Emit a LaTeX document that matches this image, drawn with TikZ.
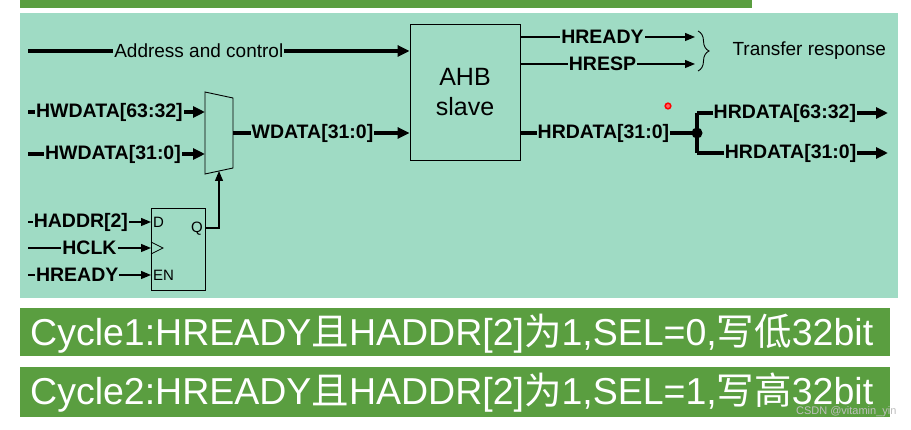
\documentclass[tikz,border=0pt]{standalone}
\usepackage{fontspec}
\setmainfont{Liberation Sans}
\newfontfamily\cjk{Noto Sans CJK SC}
\usetikzlibrary{arrows.meta,decorations.pathreplacing}
\definecolor{panel}{HTML}{9FDBC4}
\definecolor{bar}{HTML}{5A9E40}
\tikzset{
 lbl/.style={fill=panel,inner sep=1pt,font=\bfseries\fontsize{19.5}{20}\selectfont},
 thin/.style={fill=panel,inner sep=1pt,font=\fontsize{19}{20}\selectfont},
 bus/.style={line width=3.2pt,-{Triangle[length=12pt,width=11pt]}},
 sig/.style={line width=1.2pt,-{Triangle[length=10pt,width=8pt]}},
 banner/.style={fill=bar,text=white,anchor=west,font=\fontsize{37.5}{38}\selectfont,inner sep=0pt}
}
\begin{document}
\begin{tikzpicture}[x=1pt,y=-1pt]
\useasboundingbox (0,0) rectangle (911,430);
\fill[white] (0,0) rectangle (911,430);
\fill[bar] (20,0) rectangle (752,8);
\fill[panel] (20,13) rectangle (898,298);
\fill[bar] (20,308) rectangle (890,356);
\fill[bar] (20,367) rectangle (890,417);
\node[banner] (b1) at (30,334) {Cycle1:HREADY{\cjk 且}HADDR[2]{\cjk 为}1,SEL=0,{\cjk 写低}32bit};
\node[banner] (b2) at (30,393) {Cycle2:HREADY{\cjk 且}HADDR[2]{\cjk 为}1,SEL=1,{\cjk 写高}32bit};
% AHB slave
\node[draw,line width=0.9pt,minimum width=110pt,minimum height=136pt,align=center,font=\fontsize{25}{30}\selectfont] (ahb) at (465,92) {AHB\\slave};
% address
\coordinate (a0) at (28,51);
\draw[bus] (a0) -- (a0 -| ahb.west) node[thin,midway,xshift=-20pt] {Address and control};
% mux
\draw[line width=0.9pt] (205,92) -- (233,98) -- (233,168) -- (205,174) -- cycle;
\coordinate (m1) at (205,112); \coordinate (m2) at (205,154); \coordinate (mo) at (233,133); \coordinate (ms) at (219,171);
\coordinate (h1) at (28,112); \coordinate (h2) at (28,154);
\draw[bus] (h1) -- (m1) node[lbl,pos=0.46] {HWDATA[63:32]};
\draw[bus] (h2) -- (m2) node[lbl,pos=0.48] {HWDATA[31:0]};
\draw[bus] (mo) -- (mo -| ahb.west) node[lbl,pos=0.45] {WDATA[31:0]};
% flop
\node[draw,line width=0.9pt,minimum width=54pt,minimum height=82pt] (ff) at (178,249) {};
\node[font=\fontsize{15}{15}\selectfont,anchor=west,inner sep=1pt] (fd) at (152,222) {D};
\node[font=\fontsize{15}{15}\selectfont,anchor=west,inner sep=1pt] (fe) at (152,275) {EN};
\node[font=\fontsize{15}{15}\selectfont,anchor=east,inner sep=1pt] (fq) at (204,229) {Q};
\draw[line width=0.8pt] (151,242) -- (163,248) -- (151,254);
\coordinate (i1) at (28,222); \coordinate (i2) at (28,248); \coordinate (i3) at (28,275);
\draw[sig] (i1) -- (151,222) node[lbl,pos=0.43] {HADDR[2]};
\draw[sig] (i2) -- (151,248) node[lbl,pos=0.5] {HCLK};
\draw[sig] (i3) -- (151,275) node[lbl,pos=0.4] {HREADY};
\draw[sig] (205,228) -- (219,228) -- (ms);
% outputs
\coordinate (r1) at (695,37); \coordinate (r2) at (695,64);
\draw[sig] (r1 -| ahb.east) -- (r1) node[lbl,pos=0.47] {HREADY};
\draw[sig] (r2 -| ahb.east) -- (r2) node[lbl,pos=0.47] {HRESP};
\draw[line width=0.9pt,decorate,decoration={brace,amplitude=11pt}] (698,31) -- (698,71);
\node[anchor=west,font=\fontsize{19}{20}\selectfont] (tr) at (729,51) {Transfer response};
\coordinate (dot) at (697,133);
\draw[line width=3.2pt] (dot -| ahb.east) -- (dot) node[lbl,pos=0.47] {HRDATA[31:0]};
\coordinate (c1) at (697,113); \coordinate (c2) at (697,153);
\coordinate (o1) at (888,113); \coordinate (o2) at (888,153);
\draw[line width=3.2pt] (c1) -- (c2);
\draw[bus] (c1) -- (o1) node[lbl,pos=0.46] {HRDATA[63:32]};
\draw[bus] (c2) -- (o2) node[lbl,pos=0.49] {HRDATA[31:0]};
\fill (dot) circle (5.5pt);
\node[circle,draw=red,fill=red!60,line width=1.5pt,inner sep=2pt] (rd) at (668,106) {};
\node[text=gray!50,font=\fontsize{11}{11}\selectfont,anchor=east] (wm) at (900,412) {CSDN @vitamin\_yin};
\end{tikzpicture}
\end{document}
